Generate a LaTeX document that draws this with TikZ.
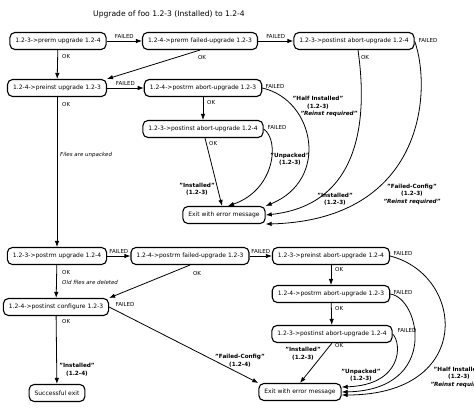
\documentclass[tikz,border=0pt]{standalone}
\usepackage{fontspec}
\setmainfont{DejaVu Sans}
\usetikzlibrary{arrows.meta}

\begin{document}
\begin{tikzpicture}[x=1pt,y=-1pt,
    box/.style={draw, rounded corners=5pt, line width=1.1pt, minimum height=17pt, inner xsep=5.5pt, font=\fontsize{6}{7}\selectfont},
    lbl/.style={inner sep=0pt, font=\fontsize{5.5}{6.5}\selectfont},
    status/.style={inner sep=0pt, align=center, font=\bfseries\fontsize{5.7}{7.5}\selectfont},
    note/.style={inner sep=0pt, anchor=west, font=\itshape\fontsize{5.5}{6.5}\selectfont},
    arr/.style={-{Latex[length=6pt,width=4.5pt]}, line width=0.8pt}]
    \useasboundingbox (0,0) rectangle (474,412);
    \node[inner sep=0pt, font=\fontsize{7.6}{9}\selectfont] (title) at (169,14) {Upgrade of foo 1.2-3 (Installed) to 1.2-4};
    \node[box] (a1) at (58,41) {1.2-3->prerm upgrade 1.2-4};
    \node[box] (a2) at (200,41) {1.2-4->prerm failed-upgrade 1.2-3};
    \node[box] (a3) at (354,41) {1.2-3->postinst abort-upgrade 1.2-4};
    \node[box] (b1) at (57,88) {1.2-4->preinst upgrade 1.2-3};
    \node[box] (b2) at (203,88) {1.2-4->postrm abort-upgrade 1.2-3};
    \node[box] (b3) at (203,129) {1.2-3->postinst abort-upgrade 1.2-4};
    \node[box] (e1) at (224,215) {Exit with error message};
    \node[box] (c1) at (57,256) {1.2-3->postrm upgrade 1.2-4};
    \node[box] (c2) at (190,256) {1.2-4->postrm failed-upgrade 1.2-3};
    \node[box] (c3) at (331,256) {1.2-3->preinst abort-upgrade 1.2-4};
    \node[box] (c4) at (331,294) {1.2-4->postrm abort-upgrade 1.2-3};
    \node[box] (c5) at (332,334) {1.2-3->postinst abort-upgrade 1.2-4};
    \node[box] (d1) at (56,307) {1.2-4->postinst configure 1.2-3};
    \node[box] (s1) at (57,393) {Successful exit};
    \node[box] (e2) at (300,392) {Exit with error message};

    \draw[arr] (a1) -- (a2) node[lbl, pos=0.5, above=2pt] {FAILED};
    \draw[arr] (a2) -- (a3) node[lbl, pos=0.5, above=2pt] {FAILED};
    \draw[arr] (a1) -- (b1);
    \node[lbl, anchor=west] at (62,56) {OK};
    \draw[arr] (a2.south) -- (b1.north east);
    \node[lbl] at (202,57) {OK};
    \node[lbl] at (365,57) {OK};
    \draw[arr] ([xshift=4pt]a3.south) .. controls (368,120) and (360,205) .. (e1.east);
    \node[lbl] at (428,40) {FAILED};
    \draw[arr] (a3.east) .. controls (432,90) and (425,220) .. (e1.south east);

    \draw[arr] (b1) -- (b2) node[lbl, pos=0.5, above=2pt] {FAILED};
    \draw[arr] (b1) -- (c1);
    \node[lbl, anchor=west] at (62,104) {OK};
    \node[note] at (60,155) {Files are unpacked};
    \draw[arr] (b2) -- (b3);
    \node[lbl, anchor=west] at (207,102) {OK};
    \node[lbl] at (275,86) {FAILED};
    \draw[arr] (b2.east) .. controls (315,100) and (330,180) .. (e1.north east);
    \node[lbl] at (277,127) {FAILED};
    \draw[arr] (b3.east) .. controls (280,140) and (275,190) .. ([xshift=4pt]e1.north);
    \draw[arr] ([xshift=2pt]b3.south) -- ([xshift=-2pt]e1.north);
    \node[lbl, anchor=west] at (209,143) {OK};

    \node[status] at (318,106.5) {"Half Installed"\\(1.2-3)\\\hspace*{22pt}\textit{"Reinst required"}};
    \node[status] at (197,189) {"Installed"\\(1.2-3)};
    \node[status] at (290,159) {"Unpacked"\\(1.2-3)};
    \node[status] at (335,199) {"Installed"\\(1.2-3)};
    \node[status] at (412,194) {"Failed-Config"\\(1.2-3)\\\textit{"Reinst required"}};

    \draw[arr] (c1) -- (c2) node[lbl, pos=0.5, above=2pt] {FAILED};
    \draw[arr] (c2) -- (c3) node[lbl, pos=0.5, above=2pt] {FAILED};
    \draw[arr] (c1) -- (d1);
    \node[lbl, anchor=west] at (62,272) {OK};
    \node[note] at (62,282) {Old files are deleted};
    \draw[arr] (c2.south) -- (d1.north east);
    \node[lbl] at (197,273) {OK};
    \draw[arr] (c3) -- (c4);
    \node[lbl, anchor=west] at (335,269) {OK};
    \draw[arr] (c4) -- (c5);
    \node[lbl, anchor=west] at (335,308) {OK};
    \node[lbl] at (403,253) {FAILED};
    \draw[arr] (c3.east) .. controls (465,275) and (475,395) .. ([yshift=-3pt]e2.east);
    \node[lbl] at (403,292) {FAILED};
    \draw[arr] (c4.east) .. controls (420,298) and (440,390) .. (e2.east);
    \node[lbl] at (407,330) {FAILED};
    \draw[arr] (c5.east) .. controls (402,343) and (403,385) .. ([yshift=5pt]e2.east);
    \draw[arr] (c5.south) -- (e2.north);
    \node[lbl, anchor=west] at (335,345) {OK};

    \draw[arr] (d1) -- (s1);
    \node[lbl, anchor=west] at (62,321) {OK};
    \draw[arr] (d1.east) -- (e2.north west);
    \node[lbl] at (125,304) {FAILED};

    \node[status] at (77,369.5) {"Installed"\\(1.2-4)};
    \node[status] at (240,360.5) {"Failed-Config"\\(1.2-4)};
    \node[status] at (303,353.5) {"Installed"\\(1.2-3)};
    \node[status] at (361,375) {"Unpacked"\\(1.2-3)};
    \node[status] at (459,377) {"Half Installed"\\(1.2-3)\\\textit{"Reinst required"}};
\end{tikzpicture}
\end{document}
